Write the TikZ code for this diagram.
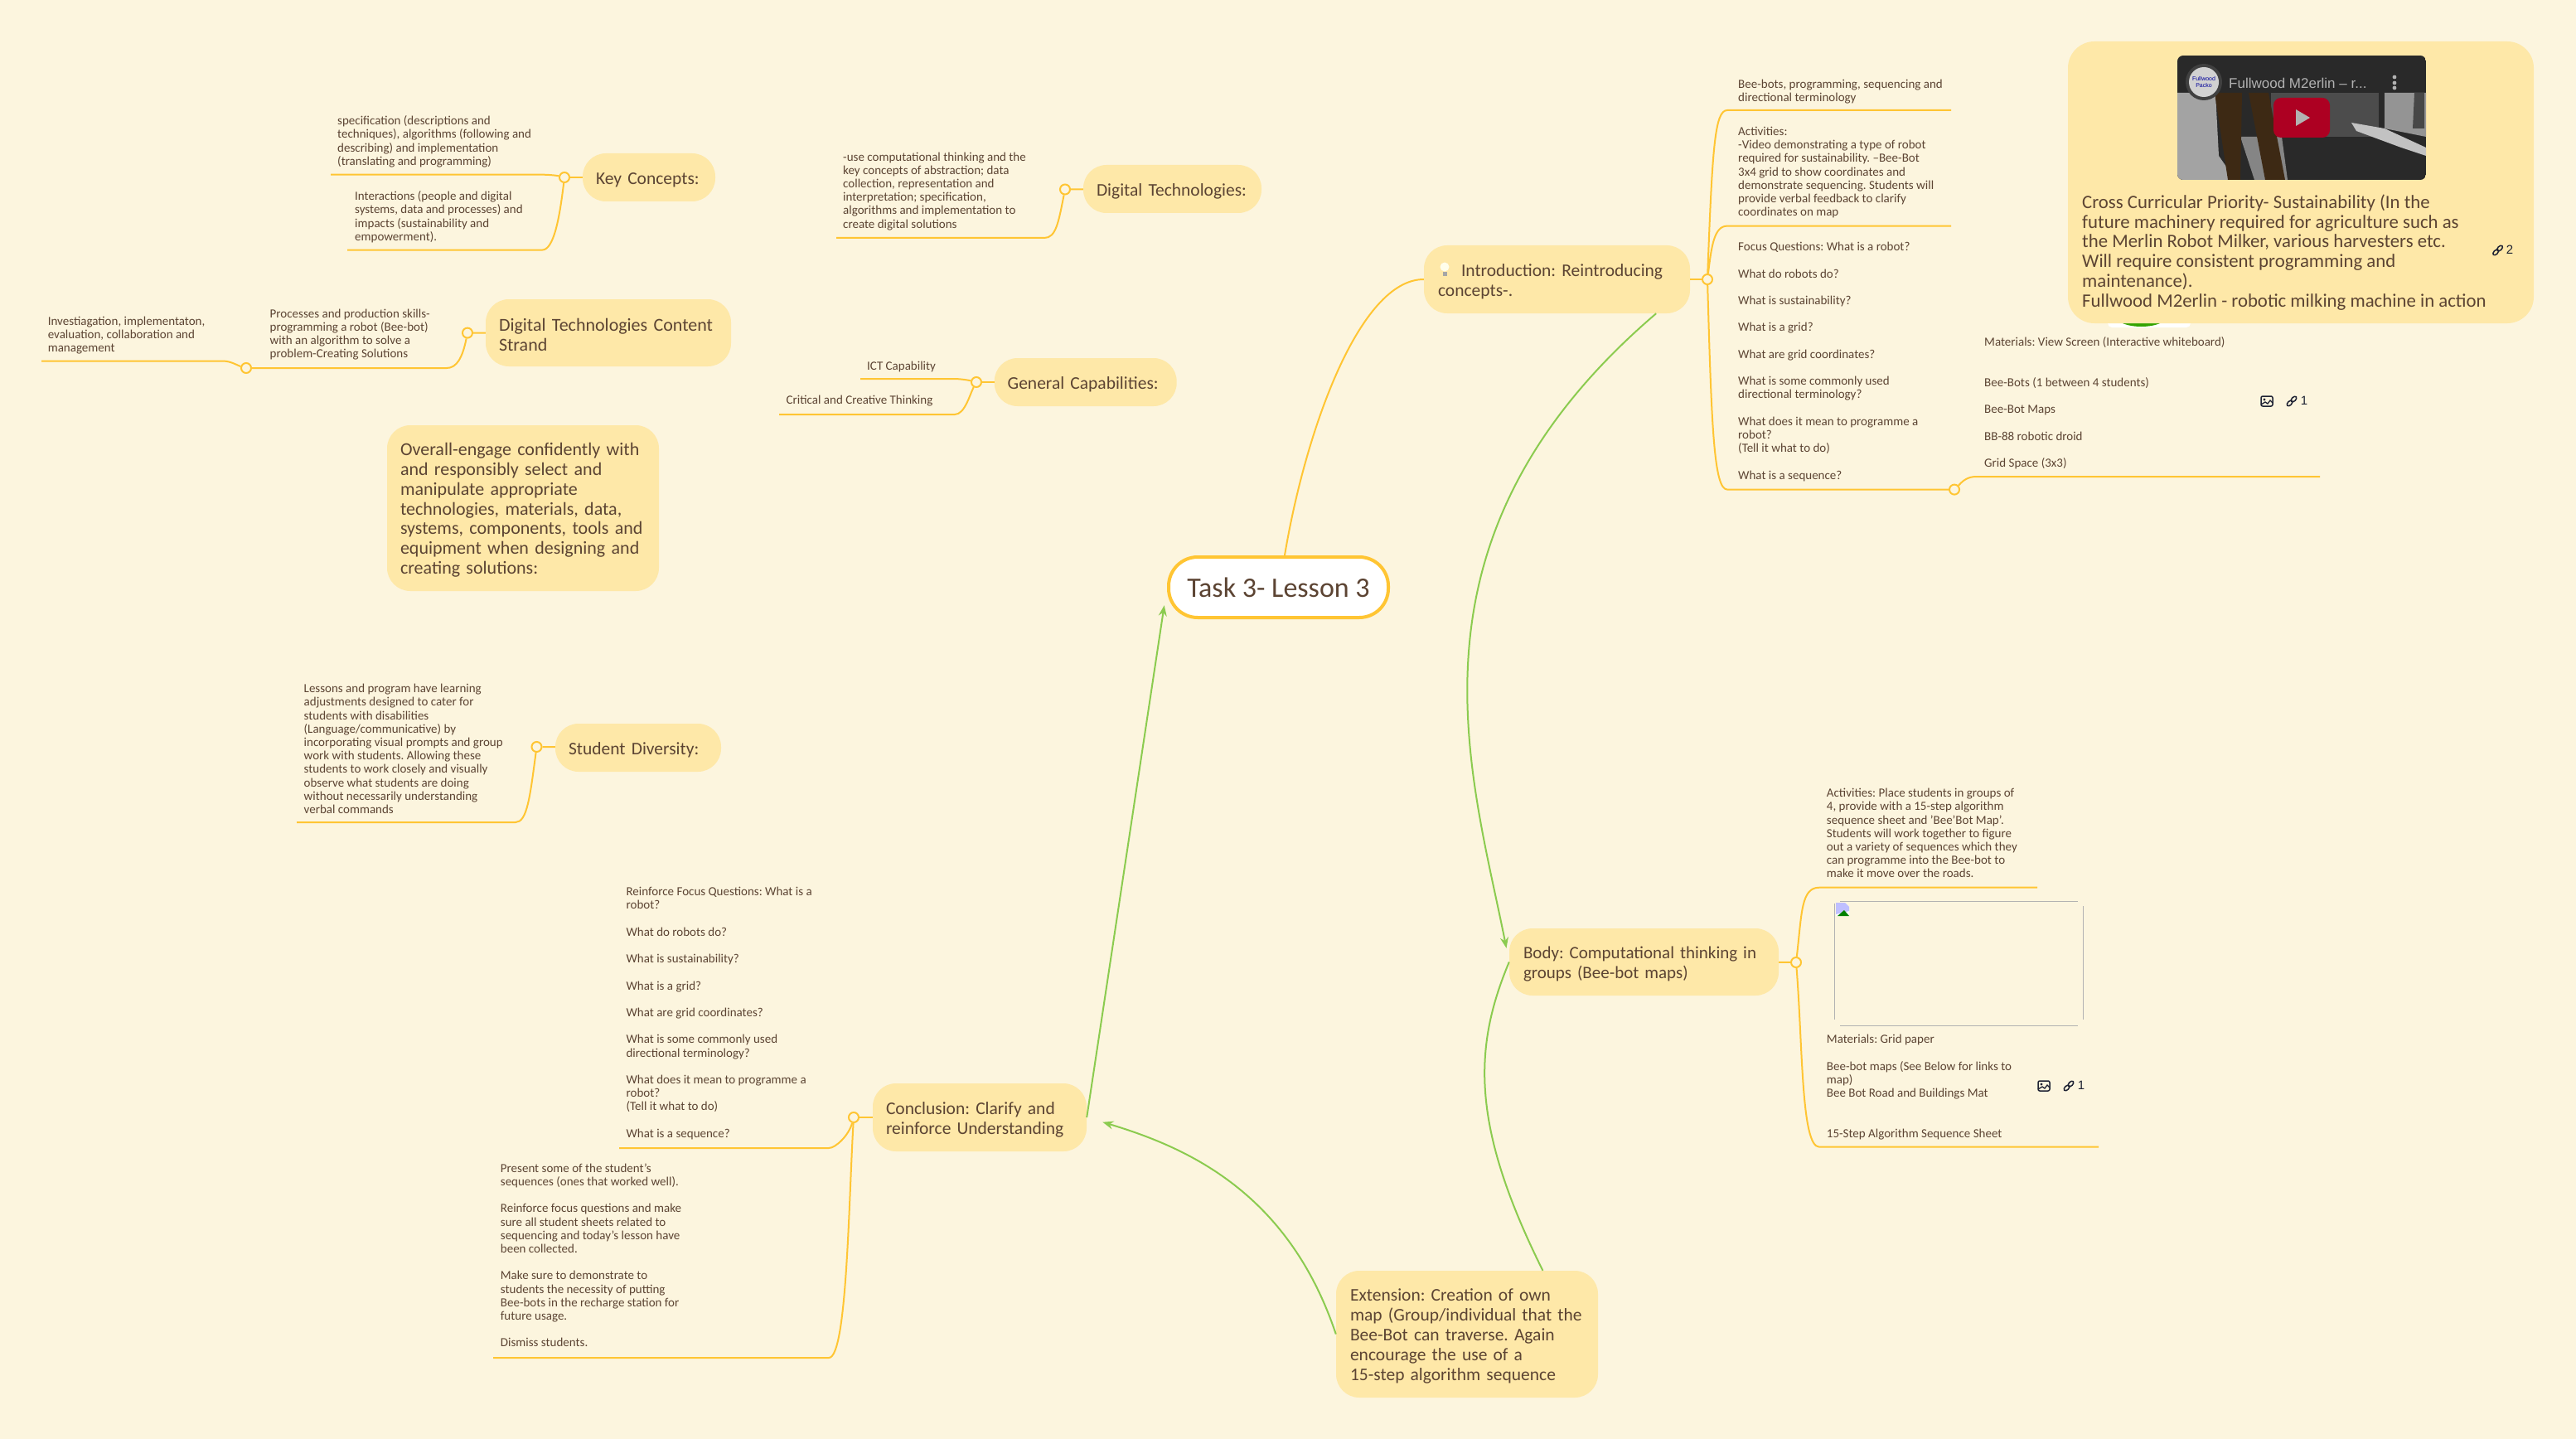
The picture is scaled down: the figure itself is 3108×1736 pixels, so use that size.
\documentclass[tikz,border=0pt]{standalone}
\usepackage{fontspec}
\setmainfont{Carlito}
\newfontfamily\titlefont{Liberation Sans}
\usetikzlibrary{arrows.meta}
\definecolor{pagebg}{HTML}{FCF5DE}
\definecolor{cardfill}{HTML}{FEE8A8}
\definecolor{branchorange}{HTML}{FFC533}
\definecolor{flowgreen}{HTML}{8BCB4F}
\definecolor{inkbrown}{HTML}{5C4433}
\definecolor{icondark}{HTML}{1E2233}
\definecolor{playred}{HTML}{AD0022}
\tikzset{
    mainnode/.style={draw=branchorange, line width=4pt, fill=white, rounded corners=35pt, minimum width=265pt, minimum height=73pt, inner sep=0pt, text=inkbrown, font=\fontsize{34}{40}\selectfont\frenchspacing},
    cardbox/.style={fill=cardfill, rounded corners=32pt, minimum width=562pt, minimum height=340pt},
    topicbox/.style={fill=cardfill, rounded corners=28pt, inner xsep=16pt, inner ysep=0pt, align=left, text=inkbrown, font=\fontsize{21.5}{24}\selectfont\frenchspacing, execute at begin node={\rule{0pt}{20pt}}},
    leaftext/.style={anchor=north west, yshift=-2.5pt, inner sep=0pt, align=left, text=inkbrown, font=\fontsize{15}{16.2}\selectfont\frenchspacing},
    cardtext/.style={leaftext, font=\fontsize{22.8}{23.8}\selectfont\frenchspacing},
    dotnode/.style={circle, draw=branchorange, line width=2pt, fill=pagebg, minimum size=12pt, inner sep=0pt},
    branchline/.style={draw=branchorange, line width=2pt},
    flowline/.style={draw=flowgreen, line width=2pt},
    flowarrow/.style={flowline, -{Stealth[length=13pt, width=10pt]}},
    iconcount/.style={inner sep=0pt, text=icondark, font=\titlefont\fontsize{15}{15}\selectfont},
    imageicon/.pic={
        \draw[icondark, line width=1.5pt, rounded corners=2pt] (-7,-6) rectangle (7,6);
        \fill[icondark] (-3,-2) circle (1.6);
        \draw[icondark, line width=1.3pt] (-7,4) -- (-2,1) -- (1,3) -- (4,-1) -- (7,2);
    },
    linkicon/.pic={
        \draw[icondark, line width=1.5pt, rotate=45] (-3.5,0) ellipse (4 and 2.4);
        \draw[icondark, line width=1.5pt, rotate=45] (3.5,0) ellipse (4 and 2.4);
    }
}
\begin{document}
\begin{tikzpicture}[x=1pt, y=-1pt]
    \fill[pagebg] (0,0) rectangle (3108,1736);
    \useasboundingbox (0,0) rectangle (3108,1736);

    \node[mainnode] (root) at (1542.5,708.5) {Task 3- Lesson 3};

    \node[topicbox, text width=128pt, minimum height=58pt] (keyconcepts) at (783,214) {Key Concepts:};
    \node[topicbox, font=\fontsize{22}{24}\selectfont\frenchspacing, text width=264pt, minimum height=81pt] (contentstrand) at (734,401.5) {Digital Technologies Content\\Strand};
    \node[topicbox, font=\fontsize{22}{23.8}\selectfont\frenchspacing, text width=296pt, minimum height=200pt] (overall) at (631,613) {Overall-engage confidently with\\and responsibly select and\\manipulate appropriate\\technologies, materials, data,\\systems, components, tools and\\equipment when designing and\\creating solutions:};
    \node[topicbox, text width=183pt, minimum height=58pt] (digitaltech) at (1414.5,228) {Digital Technologies:};
    \node[topicbox, text width=188pt, minimum height=58pt] (capabilities) at (1309.7,461) {General Capabilities:};
    \node[topicbox, text width=168pt, minimum height=58pt] (diversity) at (770,902) {Student Diversity:};
    \node[topicbox, inner xsep=17pt, text width=287pt, minimum height=82pt] (intro) at (1878.5,337) {\hspace*{28pt}Introduction: Reintroducing\\concepts-.};
    \node[topicbox, font=\fontsize{21}{24}\selectfont\frenchspacing, inner xsep=17pt, text width=291pt, minimum height=81pt] (body) at (1983.5,1160.5) {Body: Computational thinking in\\groups (Bee-bot maps)};
    \node[topicbox, text width=226pt, minimum height=82pt] (conclusion) at (1182,1348) {Conclusion: Clarify and\\reinforce Understanding};
    \node[topicbox, inner xsep=17pt, text width=282pt, minimum height=153pt] (extension) at (1770,1609.5) {Extension: Creation of own\\map (Group/individual that the\\Bee-Bot can traverse. Again\\encourage the use of a\\15-step algorithm sequence};

    \fill[white, rounded corners=5pt] (2543,370) rectangle (2643,395);
    \fill[green!55!black!80!yellow] (2557,388) .. controls (2570,396) and (2597,396) .. (2610,388) -- cycle;
    \node[cardbox] (card) at (2776,220) {};
    \node[cardtext] (cardcopy) at (2512,232) {Cross Curricular Priority- Sustainability (In the\\future machinery required for agriculture such as\\the Merlin Robot Milker, various harvesters etc.\\Will require consistent programming and\\maintenance).\\Fullwood M2erlin - robotic milking machine in action};

    \begin{scope}
        \clip[rounded corners=7pt] (2627,67) rectangle (2927,217);
        \fill[black!84] (2627,67) rectangle (2927,217);
        \fill[black!70] (2740,112) rectangle (2870,165);
        \fill[black!36] (2627,112) -- (2673,112) -- (2677,188) -- (2697,217) -- (2627,217) -- cycle;
        \fill[black!48] (2703,165) -- (2753,165) -- (2760,217) -- (2720,217) -- cycle;
        \fill[black!68!brown] (2672,112) -- (2705,112) -- (2703,217) -- (2688,217) -- cycle;
        \fill[black!68!brown] (2713,112) -- (2737,112) -- (2757,217) -- (2733,217) -- cycle;
        \fill[black!42] (2877,112) -- (2927,112) -- (2927,165) -- (2877,155) -- cycle;
        \fill[black!72] (2913,112) -- (2925,112) -- (2925,155) -- (2911,155) -- cycle;
        \fill[black!24] (2837,148) -- (2877,155) -- (2927,178) -- (2927,188) -- (2897,178) -- (2843,158) -- cycle;
    \end{scope}
    \node[circle, fill=black!75, minimum size=44pt, inner sep=0pt] (logoring) at (2659,99) {};
    \node[circle, fill=black!18, minimum size=36pt, inner sep=0pt, align=center, text=blue!60!black, font=\titlefont\fontsize{7}{8}\selectfont] (logo) at (2659,99) {Fullwood\\Packo};
    \node[anchor=west, inner sep=0pt, text=black!30, font=\titlefont\fontsize{17}{17}\selectfont] (videotitle) at (2689,100) {Fullwood M2erlin – r...};
    \foreach \doty in {93,100,106} {
        \fill[black!30] (2889,\doty) circle (2.4);
    }
    \node[fill=playred, rounded corners=9pt, minimum width=68pt, minimum height=48pt, inner sep=0pt] (playbutton) at (2777,142) {};
    \fill[black!30] (2770,132) -- (2770,152) -- (2787,142) -- cycle;

    \node[leaftext] (keyspec) at (407,137) {specification (descriptions and\\techniques), algorithms (following and\\describing) and implementation\\(translating and programming)};
    \node[leaftext] (keyinter) at (428,228) {Interactions (people and digital\\systems, data and processes) and\\impacts (sustainability and\\empowerment).};
    \node[leaftext] (strandskills) at (325.5,370) {Processes and production skills-\\programming a robot (Bee-bot)\\with an algorithm to solve a\\problem-Creating Solutions};
    \node[leaftext] (strandinvest) at (57.6,379) {Investiagation, implementaton,\\evaluation, collaboration and\\management};
    \node[leaftext] (techuse) at (1017,181) {-use computational thinking and the\\key concepts of abstraction; data\\collection, representation and\\interpretation; specification,\\algorithms and implementation to\\create digital solutions};
    \node[leaftext] (capict) at (1046,433) {ICT Capability};
    \node[leaftext] (capcritical) at (948.5,474.5) {Critical and Creative Thinking};
    \node[leaftext] (diverselessons) at (366.5,822.5) {Lessons and program have learning\\adjustments designed to cater for\\students with disabilities\\(Language/communicative) by\\incorporating visual prompts and group\\work with students. Allowing these\\students to work closely and visually\\observe what students are doing\\without necessarily understanding\\verbal commands};
    \node[leaftext] (introtopics) at (2097,93) {Bee-bots, programming, sequencing and\\directional terminology};
    \node[leaftext] (introactivities) at (2097,150.5) {Activities:\\-Video demonstrating a type of robot\\required for sustainability. --Bee-Bot\\3x4 grid to show coordinates and\\demonstrate sequencing. Students will\\provide verbal feedback to clarify\\coordinates on map};
    \node[leaftext] (introfocus) at (2097,289.5) {Focus Questions: What is a robot?\\[16.2pt]What do robots do?\\[16.2pt]What is sustainability?\\[16.2pt]What is a grid?\\[16.2pt]What are grid coordinates?\\[16.2pt]What is some commonly used\\directional terminology?\\[16.2pt]What does it mean to programme a\\robot?\\(Tell it what to do)\\[16.2pt]What is a sequence?};
    \node[leaftext] (intromaterials) at (2394,404) {Materials: View Screen (Interactive whiteboard)\\[32.4pt]Bee-Bots (1 between 4 students)\\[16.2pt]Bee-Bot Maps\\[16.2pt]BB-88 robotic droid\\[16.2pt]Grid Space (3x3)};
    \node[leaftext] (bodyactivities) at (2203.7,948.5) {Activities: Place students in groups of\\4, provide with a 15-step algorithm\\sequence sheet and 'Bee'Bot Map'.\\Students will work together to figure\\out a variety of sequences which they\\can programme into the Bee-bot to\\make it move over the roads.};
    \node[leaftext] (bodymaterials) at (2203.7,1245.5) {Materials: Grid paper\\[16.2pt]Bee-bot maps (See Below for links to\\map)\\Bee Bot Road and Buildings Mat\\[32.4pt]15-Step Algorithm Sequence Sheet};
    \node[leaftext] (concfocus) at (755.4,1067.5) {Reinforce Focus Questions: What is a\\robot?\\[16.2pt]What do robots do?\\[16.2pt]What is sustainability?\\[16.2pt]What is a grid?\\[16.2pt]What are grid coordinates?\\[16.2pt]What is some commonly used\\directional terminology?\\[16.2pt]What does it mean to programme a\\robot?\\(Tell it what to do)\\[16.2pt]What is a sequence?};
    \node[leaftext] (concpresent) at (603.7,1401) {Present some of the student's\\sequences (ones that worked well).\\[16.2pt]Reinforce focus questions and make\\sure all student sheets related to\\sequencing and today's lesson have\\been collected.\\[16.2pt]Make sure to demonstrate to\\students the necessity of putting\\Bee-bots in the recharge station for\\future usage.\\[16.2pt]Dismiss students.};

    \foreach \dotname/\dotx/\doty in {keydot/681/214, stranddot/564/401.6, strandfar/297/444, techdot/1285/228.5, capdot/1178/461, diversedot/647.5/901, introdot/2060/337, introfar/2358/590.6, bodydot/2167/1161, concdot/1030/1348} {
        \node[dotnode] (\dotname) at (\dotx,\doty) {};
    }

    \foreach \endname/\endx/\endy in {keybendA/654/210.7, keyendA/399/210.7, keybendB/654/301.6, keyendB/419/301.6, strandbend/539/444, strandbendfar/270/435.6, strandend/50/435.6, techbend/1260/287, techend/1009/287, capbendA/1150/457, capendA/1038/457, capbendB/1152/500, capendB/940/500, diversebend/622/992, diverseend/358/992, introbendA/2084/133, introendA/2354/133, introbendB/2084/272.6, introendB/2354/272.6, introbendC/2084/590.6, introbendfar/2384/575, introendfar/2799/575, bodybendA/2195/1070.7, bodyendA/2458/1070.7, bodybendB/2195/1383.7, bodyendB/2532/1383.7, concbendA/1000/1385, concendA/747/1385, concbendB/1000/1638, concendB/595/1638} {
        \coordinate (\endname) at (\endx,\endy);
    }

    \foreach \from/\to in {keyconcepts/keydot, contentstrand/stranddot, digitaltech/techdot, capabilities/capdot, diversity/diversedot, intro/introdot, body/bodydot, conclusion/concdot} {
        \draw[branchline] (\from) -- (\to);
    }

    \draw[branchline] (keydot) .. controls +(-8,-2) and +(10,0) .. (keybendA) -- (keyendA);
    \draw[branchline] (keydot) .. controls +(-6,50) and +(14,0) .. (keybendB) -- (keyendB);
    \draw[branchline] (stranddot) .. controls +(-6,30) and +(12,0) .. (strandbend) -- (strandfar);
    \draw[branchline] (strandfar) .. controls +(-10,-3) and +(8,0) .. (strandbendfar) -- (strandend);
    \draw[branchline] (techdot) .. controls +(-8,40) and +(14,0) .. (techbend) -- (techend);
    \draw[branchline] (capdot) .. controls +(-8,-2) and +(10,0) .. (capbendA) -- (capendA);
    \draw[branchline] (capdot) .. controls +(-8,15) and +(12,0) .. (capbendB) -- (capendB);
    \draw[branchline] (diversedot) .. controls +(-8,60) and +(14,0) .. (diversebend) -- (diverseend);
    \draw[branchline] (introdot) .. controls +(6,-160) and +(-15,0) .. (introbendA) -- (introendA);
    \draw[branchline] (introdot) .. controls +(5,-40) and +(-16,0) .. (introbendB) -- (introendB);
    \draw[branchline] (introdot) .. controls +(5,180) and +(-16,0) .. (introbendC) -- (introfar);
    \draw[branchline] (introfar) .. controls +(8,-8) and +(-12,0) .. (introbendfar) -- (introendfar);
    \draw[branchline] (bodydot) .. controls +(7,-60) and +(-22,0) .. (bodybendA) -- (bodyendA);
    \draw[branchline] (bodydot) .. controls +(8,100) and +(-22,0) .. (bodybendB) -- (bodyendB);
    \draw[branchline] (concdot) .. controls +(-6,22) and +(8,0) .. (concbendA) -- (concendA);
    \draw[branchline] (concdot) .. controls +(-6,100) and +(22,0) .. (concbendB) -- (concendB);

    \draw[branchline] (root.79) .. controls (1575,520) and (1640,337) .. (intro.west);
    \draw[flowarrow, shorten >=17pt] (intro.-19) .. controls (1680,650) and (1775,930) .. (body.west);
    \draw[flowline] (body.west) .. controls (1777,1265) and (1775,1359) .. (extension.40);
    \draw[flowarrow, shorten >=20pt] (extension.west) .. controls (1555,1440) and (1435,1385) .. (conclusion.east);
    \draw[flowarrow, shorten >=22pt] (conclusion.east) -- (root.west);

    \draw[black!30, line width=1pt] (2213,1090) -- (2213,1230) (2220,1087) -- (2507,1087) (2513,1093) -- (2513,1230) (2220,1237) -- (2507,1237);
    \fill[white] (2215,1089) -- (2226,1089) -- (2231,1094) -- (2231,1105) -- (2215,1105) -- cycle;
    \fill[blue!25] (2215,1089) -- (2226,1089) -- (2231,1094) -- (2231,1099) -- (2215,1103) -- cycle;
    \fill[green!50!black] (2217,1105) -- (2225,1098) -- (2231,1105) -- cycle;

    \fill[yellow!8] (1743,322) circle (5.5);
    \fill[black!35] (1740.5,328) rectangle (1745.5,333);

    \pic at (2735,484) {imageicon};
    \pic at (2765,484) {linkicon};
    \node[iconcount] (materialscount) at (2780,483) {1};
    \pic at (2466,1310) {imageicon};
    \pic at (2496,1310) {linkicon};
    \node[iconcount] (bodycount) at (2511,1309) {1};
    \pic at (3013.6,302) {linkicon};
    \node[iconcount] (cardcount) at (3028,301) {2};
\end{tikzpicture}
\end{document}
